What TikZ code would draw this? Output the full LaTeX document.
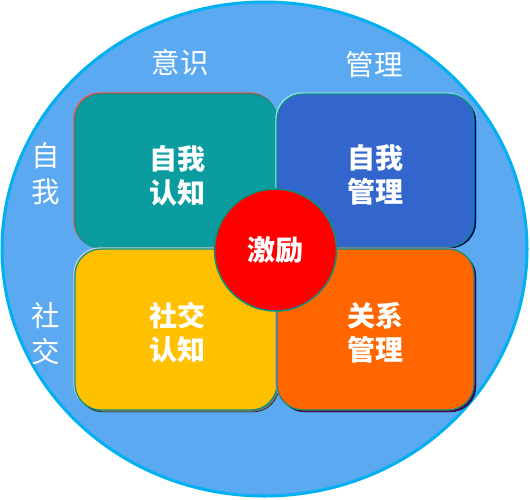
\documentclass[tikz,border=0pt]{standalone}
\usepackage{fontspec}
\setmainfont{Noto Sans CJK SC}
\definecolor{skyfill}{HTML}{5BA9F1}
\definecolor{ringblue}{HTML}{00B0F0}
\definecolor{edgegreen}{HTML}{0A917B}
\definecolor{tealq}{HTML}{0A9C9F}
\definecolor{blueq}{HTML}{3366CC}
\definecolor{yellowq}{HTML}{FFC000}
\definecolor{orangeq}{HTML}{FF6600}
\begin{document}
\begin{tikzpicture}[x=1pt,y=-1pt,
    quad/.style={rounded corners=26pt,draw=edgegreen,line width=1.2pt},
    rim/.style={rounded corners=26pt,draw=#1,line width=1.5pt},
    drop/.style={rounded corners=26pt,fill=#1},
    lbl/.style={text=white,font=\fontsize{28.5}{33}\selectfont,align=center,inner sep=0pt},
    boxlbl/.style={lbl,font=\fontsize{28}{34}\selectfont\bfseries}]
  \useasboundingbox (0,0) rectangle (530,499);
  % outer ring
  \draw[fill=skyfill,draw=ringblue,line width=3pt] (264.5,249) ellipse (262.5pt and 247pt);
  % axis labels
  \node[lbl] (aware) at (180,63) {意识};
  \node[lbl] (manage) at (374,65) {管理};
  \node[lbl] (self) at (46,174) {自\\[3pt]我};
  \node[lbl] (social) at (46,334) {社\\[3pt]交};
  % top left
  \draw[rim=red!70] (74,93) rectangle (276,247);
  \draw[quad,fill=tealq] (75,94) rectangle (277,248);
  % top right
  \draw[drop=blue!60!black] (279,96) rectangle (476,248);
  \draw[rim=cyan!40] (276,93) rectangle (473,246);
  \draw[quad,fill=blueq] (277,94) rectangle (474,247);
  % bottom left
  \draw[drop=black!55] (77,251) rectangle (279,412);
  \draw[rim=black!20] (74,248) rectangle (276,409);
  \draw[quad,fill=yellowq] (75,249) rectangle (277,410);
  % bottom right
  \draw[drop=violet!70!black] (279,251) rectangle (476,412);
  \draw[rim=violet!50] (276,248) rectangle (473,409);
  \draw[quad,fill=orangeq] (277,249) rectangle (474,410);
  % box texts
  \node[boxlbl] (selfaware) at (177,176) {自我\\认知};
  \node[boxlbl] (selfmanage) at (375,175) {自我\\管理};
  \node[boxlbl] (socialaware) at (177,333) {社交\\认知};
  \node[boxlbl] (relation) at (375,333) {关系\\管理};
  % centre
  \node[circle,minimum size=122pt,fill=red,draw=edgegreen,line width=1.5pt,
        boxlbl] (motive) at (275.5,250) {激励};
\end{tikzpicture}
\end{document}
